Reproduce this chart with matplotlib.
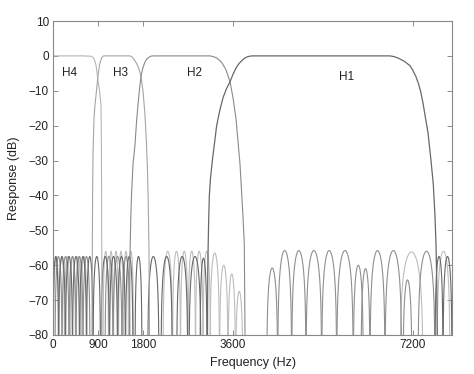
import numpy as np
import matplotlib
matplotlib.use("Agg")
import matplotlib.pyplot as plt

plt.rcParams['font.family'] = ['Liberation Sans', 'DejaVu Sans']

# ---- passband / transition curves (Hz, dB) ----
h4_f = [0, 300, 600, 760, 806, 830, 860, 894, 930, 960, 968, 972, 975, 980]
h4_db = [0, 0, 0, -0.1, -0.5, -1.2, -2.6, -6.4, -10, -14, -25, -40, -57, -80]

h3_f = [780, 786, 792, 800, 820, 840, 870, 894, 930, 970, 1010, 1300, 1540,
        1580, 1620, 1660, 1700, 1730, 1760, 1800, 1840, 1870, 1890, 1905, 1920, 1930]
h3_db = [-80, -57, -40, -28, -18, -14, -10, -6.4, -2.6, -0.6, 0, 0, 0,
         -0.3, -1, -1.9, -3, -4.3, -5.9, -10, -17, -25.5, -33, -42, -56, -80]

h2_f = [1530, 1540, 1555, 1570, 1600, 1640, 1670, 1700, 1730, 1760, 1790, 1820, 1850, 1880,
        1950, 2010, 2600, 3140, 3200, 3260, 3320, 3380, 3460, 3540, 3600, 3660, 3706,
        3740, 3760, 3780, 3800, 3826, 3840]
h2_db = [-80, -57, -47, -40, -31, -25.5, -19, -14, -9.5, -5.9, -3.8, -2.5, -1.5, -0.8,
         -0.1, 0, 0, 0, -0.2, -0.5, -1.1, -2, -4, -7.4, -12, -18, -25.5,
         -31, -36, -41, -46, -54, -80]

h1_f = [3090, 3095, 3100, 3112, 3127, 3150, 3187, 3230, 3273, 3330, 3400, 3470, 3540,
        3600, 3660, 3720, 3780, 3830, 3880, 3930, 3980, 5400, 6740,
        6820, 6900, 7020, 7140, 7200, 7260, 7310, 7350, 7400, 7440, 7500, 7560, 7607,
        7640, 7660, 7675, 7685]
h1_db = [-80, -62, -57, -48, -40, -35, -30, -25, -20, -16, -12, -9.4, -7.4,
         -5.3, -3.5, -2.2, -1.3, -0.7, -0.3, -0.1, 0, 0, 0,
         -0.2, -0.6, -1.5, -2.8, -4.2, -6, -8, -10, -13.5, -17, -22, -30, -37,
         -46, -54, -65, -80]

# ---- stopband lobes: (left null Hz, right null Hz, peak dB) ----
lobes_dark = [(0, 110, -57.5), (110, 250, -57.5), (250, 390, -57.5), (390, 530, -57.5),
              (530, 670, -57.5), (670, 800, -57.5), (800, 950, -57.5),
              (960, 1130, -57.5), (1130, 1290, -57.5), (1290, 1450, -57.5),
              (1450, 1600, -57.5), (1640, 1780, -57.5),
              (1894, 2120, -57.5), (2160, 2386, -57.5), (2474, 2694, -57.5),
              (2720, 2960, -57.5), (2940, 3080, -58),
              (7640, 7800, -57.5), (7800, 7980, -57.5)]

lobes_medium = [(40, 180, -57.5), (180, 320, -57.5), (320, 460, -57.5), (460, 600, -57.5),
                (600, 740, -57.5), (1040, 1200, -57.5), (1200, 1380, -57.5),
                (1380, 1540, -57.5),
                (4274, 4494, -60.8), (4494, 4774, -55.8), (4774, 5060, -55.8),
                (5060, 5374, -55.8), (5374, 5674, -55.8), (5674, 6006, -55.8),
                (6006, 6206, -60), (6160, 6340, -61), (6340, 6640, -55.8),
                (6640, 6974, -55.8), (7000, 7180, -64.2), (7300, 7640, -56)]

lobes_light = [(10, 120, -57.5), (120, 230, -57.5), (230, 340, -57.5), (340, 450, -57.5),
               (450, 560, -57.5), (560, 680, -57.5),
               (1000, 1110, -56), (1110, 1210, -56), (1210, 1310, -56), (1310, 1410, -56),
               (1410, 1510, -56), (1510, 1610, -56),
               (2200, 2390, -56), (2390, 2550, -56), (2550, 2700, -56), (2700, 2850, -56),
               (2850, 3000, -56), (3000, 3150, -56),
               (3140, 3330, -56.5), (3330, 3500, -60), (3500, 3650, -62.5), (3650, 3800, -67.5),
               (6940, 7400, -56.2), (7680, 7940, -56)]

xticks = [0, 900, 1800, 3600, 7200]
yticks = [10, 0, -10, -20, -30, -40, -50, -60, -70, -80]
labels = ['H4', 'H3', 'H2', 'H1']
label_f = [340, 1340, 2840, 5880]
label_db = [-4.9, -4.9, -4.9, -6.0]

fig = plt.figure(figsize=(4.74, 3.74), dpi=100)
ax = fig.add_axes([53 / 474, 1 - 335 / 374, (452 - 53) / 474, (335 - 21) / 374])

def draw_lobes(lobes, color):
    t = np.linspace(0.001, 0.999, 80)
    for a, b, p in lobes:
        f = a + (b - a) * t
        db = p + 20 * np.log10(np.sin(np.pi * t))
        ax.plot(f, np.maximum(db, -90), color=color, lw=0.8)

draw_lobes(lobes_light, '#bdbdbd')
draw_lobes(lobes_medium, '#8f8f8f')
draw_lobes(lobes_dark, '#686868')

ax.plot(h4_f, h4_db, color='#b5b5b5', lw=0.8)
ax.plot(h3_f, h3_db, color='#a5a5a5', lw=0.8)
ax.plot(h2_f, h2_db, color='#8a8a8a', lw=0.8)
ax.plot(h1_f, h1_db, color='#686868', lw=0.9)

for lab, f, d in zip(labels, label_f, label_db):
    ax.text(f, d, lab, fontsize=8.5, ha='center', va='center', color='#222222')

ax.set_xlim(0, 7980)
ax.set_ylim(-80, 10)
ax.set_xticks(xticks)
ax.set_xticklabels([str(v) for v in xticks])
ax.set_yticks(yticks)
ax.set_yticklabels([('\u2212' if v < 0 else '') + str(abs(v)) for v in yticks])
ax.tick_params(direction='in', top=True, right=True, length=3.5, width=0.6,
               colors='#777777', labelcolor='#222222', labelsize=8.5, pad=3)
for s in ax.spines.values():
    s.set_color('#888888')
    s.set_linewidth(0.8)
ax.set_xlabel('Frequency (Hz)', fontsize=9, color='#222222', labelpad=4)
ax.set_ylabel('Response (dB)', fontsize=9, color='#222222', labelpad=6)

fig.savefig('out.png', dpi=100)
